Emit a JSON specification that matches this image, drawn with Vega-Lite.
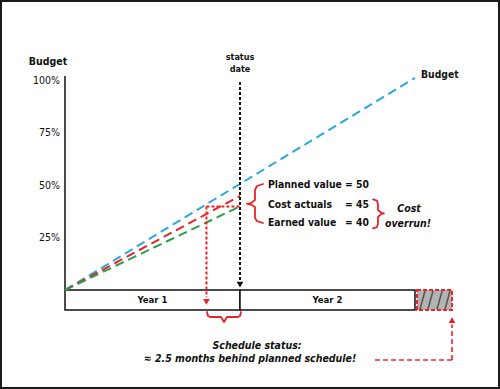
{
  "$schema": "https://vega.github.io/schema/vega-lite/v6.json",
  "width": 500,
  "height": 389,
  "padding": 0,
  "autosize": "none",
  "background": "white",
  "config": {"view": {"stroke": "#1a1a1a", "strokeWidth": 4}},
  "layer": [
    {
      "data": {"values": [
        {"x0": 0, "x1": 12, "y0": 0, "y1": -9.57},
        {"x0": 12, "x1": 24, "y0": 0, "y1": -9.57}
      ]},
      "mark": {"type": "rect", "fill": "white", "stroke": "#111", "strokeWidth": 1.5},
      "encoding": {
        "x": {"field": "x0", "type": "quantitative", "scale": {"domain": [-4.457, 29.829], "nice": false, "zero": false}, "axis": null},
        "x2": {"field": "x1"},
        "y": {"field": "y0", "type": "quantitative", "scale": {"domain": [-47.36, 138.76], "nice": false, "zero": false}, "axis": null},
        "y2": {"field": "y1"}
      }
    },
    {
      "data": {"values": [{"x0": 24.14, "x1": 26.54, "y0": 0, "y1": -9.57}]},
      "mark": {"type": "rect", "fill": "#b3b3b3", "stroke": "#e8242b", "strokeWidth": 2, "strokeDash": [4, 2]},
      "encoding": {
        "x": {"field": "x0", "type": "quantitative", "scale": {"domain": [-4.457, 29.829], "nice": false, "zero": false}, "axis": null},
        "x2": {"field": "x1"},
        "y": {"field": "y0", "type": "quantitative", "scale": {"domain": [-47.36, 138.76], "nice": false, "zero": false}, "axis": null},
        "y2": {"field": "y1"}
      }
    },
    {
      "data": {"values": [
        {"x0": 24.34, "y0": -9.1, "x1": 24.69, "y1": -0.48},
        {"x0": 24.89, "y0": -9.1, "x1": 25.23, "y1": -0.48},
        {"x0": 25.51, "y0": -9.1, "x1": 25.86, "y1": -0.48},
        {"x0": 26.06, "y0": -9.1, "x1": 26.40, "y1": -0.48}
      ]},
      "mark": {"type": "rule", "color": "#555555", "strokeWidth": 1.5},
      "encoding": {
        "x": {"field": "x0", "type": "quantitative", "scale": {"domain": [-4.457, 29.829], "nice": false, "zero": false}, "axis": null},
        "x2": {"field": "x1"},
        "y": {"field": "y0", "type": "quantitative", "scale": {"domain": [-47.36, 138.76], "nice": false, "zero": false}, "axis": null},
        "y2": {"field": "y1"}
      }
    },
    {
      "data": {"values": [{"x0": 0, "y0": 0, "x1": 0, "y1": 102.4}]},
      "mark": {"type": "rule", "color": "#111", "strokeWidth": 1.5},
      "encoding": {
        "x": {"field": "x0", "type": "quantitative", "scale": {"domain": [-4.457, 29.829], "nice": false, "zero": false}, "axis": null},
        "x2": {"field": "x1"},
        "y": {"field": "y0", "type": "quantitative", "scale": {"domain": [-47.36, 138.76], "nice": false, "zero": false}, "axis": null},
        "y2": {"field": "y1"}
      }
    },
    {
      "data": {"values": [
        {"series": "Budget", "x": 0, "y": 0}, {"series": "Budget", "x": 24, "y": 101.5},
        {"series": "Cost actuals", "x": 0, "y": 0}, {"series": "Cost actuals", "x": 12, "y": 45},
        {"series": "Earned value", "x": 0, "y": 0}, {"series": "Earned value", "x": 12, "y": 40}
      ]},
      "mark": {"type": "line", "strokeWidth": 2, "strokeDash": [9, 5]},
      "encoding": {
        "x": {"field": "x", "type": "quantitative", "scale": {"domain": [-4.457, 29.829], "nice": false, "zero": false}, "axis": null},
        "y": {"field": "y", "type": "quantitative", "scale": {"domain": [-47.36, 138.76], "nice": false, "zero": false}, "axis": null},
        "color": {"field": "series", "type": "nominal", "scale": {"domain": ["Budget", "Cost actuals", "Earned value"], "range": ["#29a8e0", "#e8242b", "#2f9a4c"]}, "legend": null}
      }
    },
    {
      "data": {"values": [{"x0": 12, "y0": 99.5, "x1": 12, "y1": 4.5}]},
      "mark": {"type": "rule", "color": "#111", "strokeWidth": 2, "strokeDash": [3, 2]},
      "encoding": {
        "x": {"field": "x0", "type": "quantitative", "scale": {"domain": [-4.457, 29.829], "nice": false, "zero": false}, "axis": null},
        "x2": {"field": "x1"},
        "y": {"field": "y0", "type": "quantitative", "scale": {"domain": [-47.36, 138.76], "nice": false, "zero": false}, "axis": null},
        "y2": {"field": "y1"}
      }
    },
    {
      "data": {"values": [
        {"x0": 9.7, "y0": 40, "x1": 12, "y1": 40},
        {"x0": 9.7, "y0": 40, "x1": 9.7, "y1": -3.5}
      ]},
      "mark": {"type": "rule", "color": "#e8242b", "strokeWidth": 2, "strokeDash": [3, 2]},
      "encoding": {
        "x": {"field": "x0", "type": "quantitative", "scale": {"domain": [-4.457, 29.829], "nice": false, "zero": false}, "axis": null},
        "x2": {"field": "x1"},
        "y": {"field": "y0", "type": "quantitative", "scale": {"domain": [-47.36, 138.76], "nice": false, "zero": false}, "axis": null},
        "y2": {"field": "y1"}
      }
    },
    {
      "data": {"values": [
        {"x0": 21.26, "y0": -33.5, "x1": 26.54, "y1": -33.5},
        {"x0": 26.54, "y0": -33.5, "x1": 26.54, "y1": -16.5}
      ]},
      "mark": {"type": "rule", "color": "#e8242b", "strokeWidth": 1.6, "strokeDash": [5, 3]},
      "encoding": {
        "x": {"field": "x0", "type": "quantitative", "scale": {"domain": [-4.457, 29.829], "nice": false, "zero": false}, "axis": null},
        "x2": {"field": "x1"},
        "y": {"field": "y0", "type": "quantitative", "scale": {"domain": [-47.36, 138.76], "nice": false, "zero": false}, "axis": null},
        "y2": {"field": "y1"}
      }
    },
    {
      "data": {"values": [{"x": 12, "y": 2.6}]},
      "mark": {"type": "point", "shape": "triangle-down", "filled": true, "color": "#111", "size": 45, "opacity": 1},
      "encoding": {
        "x": {"field": "x", "type": "quantitative", "scale": {"domain": [-4.457, 29.829], "nice": false, "zero": false}, "axis": null},
        "y": {"field": "y", "type": "quantitative", "scale": {"domain": [-47.36, 138.76], "nice": false, "zero": false}, "axis": null}
      }
    },
    {
      "data": {"values": [{"x": 9.7, "y": -5.7}]},
      "mark": {"type": "point", "shape": "triangle-down", "filled": true, "color": "#e8242b", "size": 45, "opacity": 1},
      "encoding": {
        "x": {"field": "x", "type": "quantitative", "scale": {"domain": [-4.457, 29.829], "nice": false, "zero": false}, "axis": null},
        "y": {"field": "y", "type": "quantitative", "scale": {"domain": [-47.36, 138.76], "nice": false, "zero": false}, "axis": null}
      }
    },
    {
      "data": {"values": [{"x": 26.54, "y": -14.4}]},
      "mark": {"type": "point", "shape": "triangle-up", "filled": true, "color": "#e8242b", "size": 45, "opacity": 1},
      "encoding": {
        "x": {"field": "x", "type": "quantitative", "scale": {"domain": [-4.457, 29.829], "nice": false, "zero": false}, "axis": null},
        "y": {"field": "y", "type": "quantitative", "scale": {"domain": [-47.36, 138.76], "nice": false, "zero": false}, "axis": null}
      }
    },
    {
      "data": {"values": [
        {"b": "under", "i": 0, "x": 9.737, "y": -10.53},
        {"b": "under", "i": 1, "x": 9.806, "y": -12.44},
        {"b": "under", "i": 2, "x": 9.943, "y": -12.92},
        {"b": "under", "i": 3, "x": 10.697, "y": -12.92},
        {"b": "under", "i": 4, "x": 10.903, "y": -15.31},
        {"b": "under", "i": 5, "x": 11.109, "y": -12.92},
        {"b": "under", "i": 6, "x": 11.863, "y": -12.92},
        {"b": "under", "i": 7, "x": 12.0, "y": -12.44},
        {"b": "under", "i": 8, "x": 12.069, "y": -10.53},
        {"b": "left", "i": 0, "x": 13.577, "y": 50.72},
        {"b": "left", "i": 1, "x": 13.166, "y": 49.76},
        {"b": "left", "i": 2, "x": 13.029, "y": 47.85},
        {"b": "left", "i": 3, "x": 13.029, "y": 43.06},
        {"b": "left", "i": 4, "x": 12.754, "y": 41.63},
        {"b": "left", "i": 5, "x": 12.48, "y": 41.2},
        {"b": "left", "i": 6, "x": 12.754, "y": 40.9},
        {"b": "left", "i": 7, "x": 13.029, "y": 39.71},
        {"b": "left", "i": 8, "x": 13.029, "y": 34.45},
        {"b": "left", "i": 9, "x": 13.166, "y": 33.01},
        {"b": "left", "i": 10, "x": 13.577, "y": 32.06},
        {"b": "right", "i": 0, "x": 21.12, "y": 43.4},
        {"b": "right", "i": 1, "x": 21.39, "y": 42.82},
        {"b": "right", "i": 2, "x": 21.46, "y": 41.15},
        {"b": "right", "i": 3, "x": 21.46, "y": 38.28},
        {"b": "right", "i": 4, "x": 21.67, "y": 37.08},
        {"b": "right", "i": 5, "x": 21.87, "y": 36.7},
        {"b": "right", "i": 6, "x": 21.67, "y": 36.36},
        {"b": "right", "i": 7, "x": 21.46, "y": 34.93},
        {"b": "right", "i": 8, "x": 21.46, "y": 31.58},
        {"b": "right", "i": 9, "x": 21.39, "y": 30.14},
        {"b": "right", "i": 10, "x": 21.12, "y": 29.52}
      ]},
      "mark": {"type": "line", "color": "#e8242b", "strokeWidth": 1.8, "strokeJoin": "round", "strokeCap": "round"},
      "encoding": {
        "x": {"field": "x", "type": "quantitative", "scale": {"domain": [-4.457, 29.829], "nice": false, "zero": false}, "axis": null},
        "y": {"field": "y", "type": "quantitative", "scale": {"domain": [-47.36, 138.76], "nice": false, "zero": false}, "axis": null},
        "detail": {"field": "b", "type": "nominal"},
        "order": {"field": "i", "type": "quantitative"}
      }
    },
    {
      "data": {"values": [
        {"x": -0.343, "y": 100, "t": "100%"},
        {"x": -0.343, "y": 75, "t": "75%"},
        {"x": -0.343, "y": 50, "t": "50%"},
        {"x": -0.343, "y": 25, "t": "25%"}
      ]},
      "mark": {"type": "text", "align": "right", "baseline": "middle", "font": "DejaVu Sans Condensed", "fontSize": 10.5, "color": "#111"},
      "encoding": {
        "x": {"field": "x", "type": "quantitative", "scale": {"domain": [-4.457, 29.829], "nice": false, "zero": false}, "axis": null},
        "y": {"field": "y", "type": "quantitative", "scale": {"domain": [-47.36, 138.76], "nice": false, "zero": false}, "axis": null},
        "text": {"field": "t"}
      }
    },
    {
      "data": {"values": [
        {"x": -1.166, "y": 109.1, "t": "Budget"}
      ]},
      "mark": {"type": "text", "align": "center", "baseline": "middle", "font": "DejaVu Sans Condensed", "fontWeight": "bold", "fontSize": 10.5, "color": "#111"},
      "encoding": {
        "x": {"field": "x", "type": "quantitative", "scale": {"domain": [-4.457, 29.829], "nice": false, "zero": false}, "axis": null},
        "y": {"field": "y", "type": "quantitative", "scale": {"domain": [-47.36, 138.76], "nice": false, "zero": false}, "axis": null},
        "text": {"field": "t"}
      }
    },
    {
      "data": {"values": [
        {"x": 12, "y": 111.5, "t": "status"},
        {"x": 12, "y": 105.7, "t": "date"}
      ]},
      "mark": {"type": "text", "align": "center", "baseline": "middle", "font": "DejaVu Sans Condensed", "fontWeight": "bold", "fontSize": 9, "color": "#111"},
      "encoding": {
        "x": {"field": "x", "type": "quantitative", "scale": {"domain": [-4.457, 29.829], "nice": false, "zero": false}, "axis": null},
        "y": {"field": "y", "type": "quantitative", "scale": {"domain": [-47.36, 138.76], "nice": false, "zero": false}, "axis": null},
        "text": {"field": "t"}
      }
    },
    {
      "data": {"values": [
        {"x": 6, "y": -5.0, "t": "Year 1"},
        {"x": 18, "y": -5.0, "t": "Year 2"}
      ]},
      "mark": {"type": "text", "align": "center", "baseline": "middle", "font": "DejaVu Sans Condensed", "fontWeight": "bold", "fontSize": 9.5, "color": "#111"},
      "encoding": {
        "x": {"field": "x", "type": "quantitative", "scale": {"domain": [-4.457, 29.829], "nice": false, "zero": false}, "axis": null},
        "y": {"field": "y", "type": "quantitative", "scale": {"domain": [-47.36, 138.76], "nice": false, "zero": false}, "axis": null},
        "text": {"field": "t"}
      }
    },
    {
      "data": {"values": [
        {"x": 24.41, "y": 102.9, "t": "Budget"},
        {"x": 13.92, "y": 50.24, "t": "Planned value"},
        {"x": 13.92, "y": 40.67, "t": "Cost actuals"},
        {"x": 13.92, "y": 32.06, "t": "Earned value"},
        {"x": 19.2, "y": 50.24, "t": "= 50"},
        {"x": 19.2, "y": 40.67, "t": "= 45"},
        {"x": 19.2, "y": 32.06, "t": "= 40"}
      ]},
      "mark": {"type": "text", "align": "left", "baseline": "middle", "font": "DejaVu Sans Condensed", "fontWeight": "bold", "fontSize": 10.3, "color": "#111"},
      "encoding": {
        "x": {"field": "x", "type": "quantitative", "scale": {"domain": [-4.457, 29.829], "nice": false, "zero": false}, "axis": null},
        "y": {"field": "y", "type": "quantitative", "scale": {"domain": [-47.36, 138.76], "nice": false, "zero": false}, "axis": null},
        "text": {"field": "t"}
      }
    },
    {
      "data": {"values": [
        {"x": 23.59, "y": 38.76, "t": "Cost"},
        {"x": 23.52, "y": 31.58, "t": "overrun!"},
        {"x": 13.17, "y": -26.8, "t": "Schedule status:"},
        {"x": 12.69, "y": -33.0, "t": "≈  2.5 months behind planned schedule!"}
      ]},
      "mark": {"type": "text", "align": "center", "baseline": "middle", "font": "DejaVu Sans Condensed", "fontWeight": "bold", "fontStyle": "italic", "fontSize": 10.5, "color": "#111"},
      "encoding": {
        "x": {"field": "x", "type": "quantitative", "scale": {"domain": [-4.457, 29.829], "nice": false, "zero": false}, "axis": null},
        "y": {"field": "y", "type": "quantitative", "scale": {"domain": [-47.36, 138.76], "nice": false, "zero": false}, "axis": null},
        "text": {"field": "t"}
      }
    }
  ]
}
